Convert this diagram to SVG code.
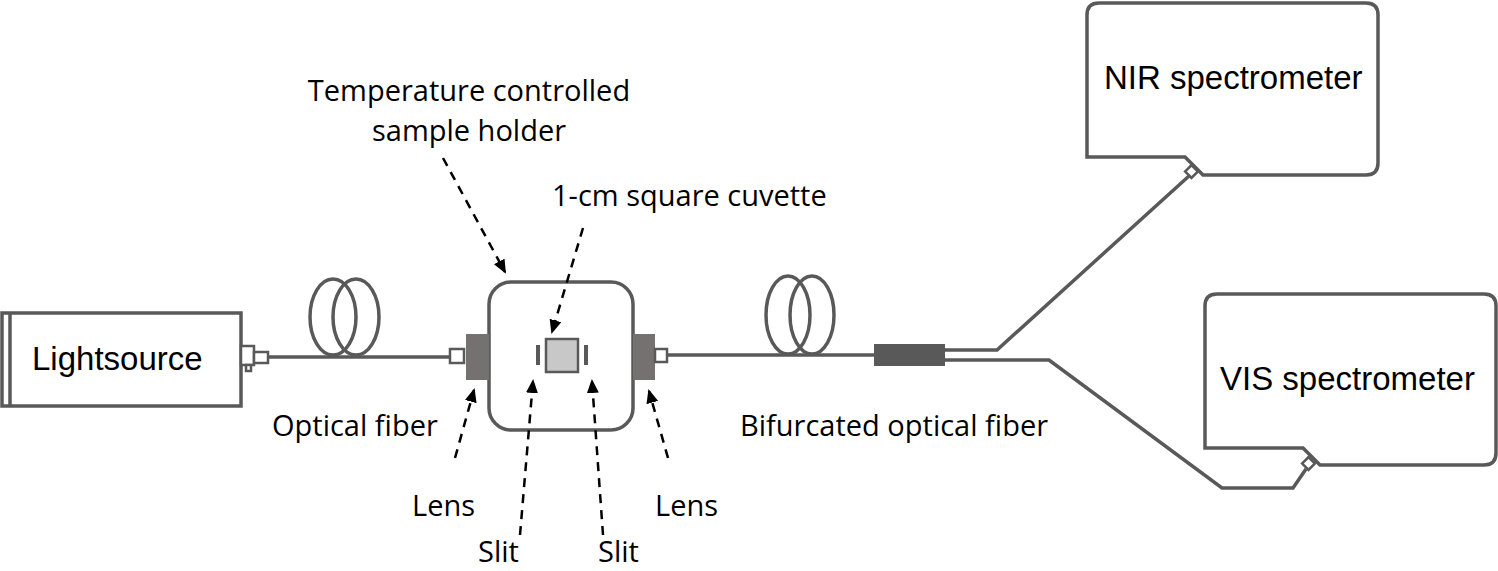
<svg xmlns="http://www.w3.org/2000/svg" width="1498" height="571" viewBox="0 0 1498 571">
<style>
.ln{fill:none;stroke:#595959;stroke-width:3.5}
.box{fill:#fff;stroke:#595959;stroke-width:3.5}
.lens{fill:#767171}
.con{fill:#fff;stroke:#595959;stroke-width:2.5}
.big{font-family:"Liberation Sans",Arial,sans-serif;font-size:33px;fill:#000}
.lab{font-family:"Open Sans","Liberation Sans",sans-serif;font-size:29px;fill:#000}
.dash{fill:none;stroke:#000;stroke-width:2.5;stroke-dasharray:9,7;marker-end:url(#ah)}
</style>
<defs>
<marker id="ah" viewBox="0 0 14 12" refX="12" refY="6" markerWidth="14" markerHeight="12" orient="auto" markerUnits="userSpaceOnUse">
<path d="M0,0 L14,6 L0,12 z" fill="#000"/>
</marker>
</defs>
<rect width="1498" height="571" fill="#fff"/>
<g id="connectors">
<line class="ln" x1="268" y1="357" x2="450" y2="357"/>
<ellipse class="ln" cx="333" cy="317" rx="23" ry="38"/>
<ellipse class="ln" cx="356" cy="317" rx="23" ry="38"/>
<line class="ln" x1="667" y1="355" x2="875" y2="355"/>
<ellipse class="ln" cx="788" cy="315" rx="22" ry="39"/>
<ellipse class="ln" cx="812" cy="315" rx="22" ry="39"/>
<polyline class="ln" points="945,350 997,350 1189,176"/>
<polyline class="ln" points="945,360 1049,360 1222,488 1293,488 1306,469"/>
</g>
<g id="lightsource">
<rect class="box" x="2" y="313" width="239" height="93"/>
<line class="ln" x1="10" y1="313" x2="10" y2="406"/>
<rect class="con" x="241" y="346" width="13" height="19"/>
<rect class="con" x="254" y="352" width="14" height="11"/>
<rect class="con" x="246" y="365" width="5" height="6"/>
<text class="big" x="32" y="370">Lightsource</text>
</g>
<g id="holder">
<rect class="box" x="489" y="282" width="144" height="148" rx="22"/>
<rect class="con" x="450" y="349" width="14" height="14"/>
<rect class="lens" x="466" y="334" width="23" height="46"/>
<rect class="lens" x="633" y="334" width="22" height="46"/>
<rect class="con" x="655" y="349" width="12" height="13"/>
<rect x="546" y="339" width="32" height="33" fill="#c8c8c8" stroke="#595959" stroke-width="2.5"/>
<rect x="536" y="345" width="4" height="20" fill="#595959"/>
<rect x="584" y="345" width="4" height="20" fill="#595959"/>
</g>
<g id="bifurcation">
<rect x="874" y="344" width="71" height="22" fill="#595959"/>
</g>
<g id="nir">
<path class="box" d="M1087,157 L1087,15 Q1087,3 1099,3 L1366,3 Q1378,3 1378,15 L1378,163 Q1378,175 1366,175 L1203,175 L1185,157 Z"/>
<rect class="con" x="1187" y="167" width="9" height="9" transform="rotate(45 1191.5 171.5)"/>
<text class="big" x="1104" y="89">NIR spectrometer</text>
</g>
<g id="vis">
<path class="box" d="M1205,448 L1205,306 Q1205,294 1217,294 L1484,294 Q1496,294 1496,306 L1496,453 Q1496,465 1484,465 L1320,465 L1303,448 Z"/>
<rect class="con" x="1304" y="459" width="9" height="9" transform="rotate(45 1308.5 463.5)"/>
<text class="big" x="1220" y="390">VIS spectrometer</text>
</g>
<g id="labels">
<text class="lab" x="469" y="101" text-anchor="middle">Temperature controlled</text>
<text class="lab" x="469" y="141" text-anchor="middle">sample holder</text>
<text class="lab" x="552" y="206">1-cm square cuvette</text>
<text class="lab" x="272" y="436">Optical fiber</text>
<text class="lab" x="740" y="436">Bifurcated optical fiber</text>
<text class="lab" x="412" y="516">Lens</text>
<text class="lab" x="655" y="516">Lens</text>
<text class="lab" x="478" y="562">Slit</text>
<text class="lab" x="598" y="562">Slit</text>
</g>
<g id="arrows">
<line class="dash" x1="443" y1="158" x2="505" y2="272"/>
<line class="dash" x1="583" y1="228" x2="552" y2="332"/>
<line class="dash" x1="455" y1="458" x2="474" y2="390"/>
<line class="dash" x1="520" y1="535" x2="533" y2="381"/>
<line class="dash" x1="603" y1="535" x2="592" y2="381"/>
<line class="dash" x1="668" y1="458" x2="649" y2="391"/>
</g>
</svg>
